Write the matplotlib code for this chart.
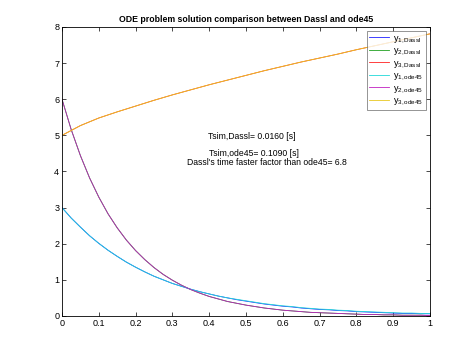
import matplotlib
matplotlib.use("Agg")
import matplotlib.pyplot as plt

t_fast = [0.000, 0.025, 0.050, 0.075, 0.100, 0.125, 0.150, 0.175, 0.200, 0.225,
          0.250, 0.275, 0.300, 0.325, 0.350, 0.375, 0.400, 0.425, 0.450, 0.475,
          0.500, 0.525, 0.550, 0.575, 0.600, 0.625, 0.650, 0.675, 0.700, 0.725,
          0.750, 0.775, 0.800, 0.825, 0.850, 0.875, 0.900, 0.925, 0.950, 0.975, 1.000]
y1_dassl = [3.00, 2.71, 2.46, 2.22, 2.01, 1.82, 1.65, 1.49, 1.35, 1.22,
            1.10, 1.00, 0.90, 0.82, 0.74, 0.67, 0.61, 0.55, 0.50, 0.45,
            0.41, 0.37, 0.33, 0.30, 0.27, 0.25, 0.22, 0.20, 0.18, 0.17,
            0.15, 0.14, 0.12, 0.11, 0.10, 0.09, 0.08, 0.07, 0.07, 0.06, 0.06]
y2_dassl = [6.00, 5.16, 4.44, 3.82, 3.29, 2.83, 2.44, 2.10, 1.81, 1.56,
            1.34, 1.15, 0.99, 0.85, 0.73, 0.63, 0.54, 0.47, 0.40, 0.35,
            0.30, 0.26, 0.22, 0.19, 0.16, 0.14, 0.12, 0.10, 0.09, 0.08,
            0.07, 0.06, 0.05, 0.04, 0.04, 0.03, 0.03, 0.02, 0.02, 0.02, 0.01]
y1_ode45 = [3.00, 2.71, 2.46, 2.22, 2.01, 1.82, 1.65, 1.49, 1.35, 1.22,
            1.10, 1.00, 0.90, 0.82, 0.74, 0.67, 0.61, 0.55, 0.50, 0.46,
            0.42, 0.38, 0.34, 0.31, 0.28, 0.26, 0.23, 0.21, 0.19, 0.18,
            0.16, 0.15, 0.13, 0.12, 0.11, 0.10, 0.09, 0.08, 0.08, 0.07, 0.07]
y2_ode45 = [6.00, 5.16, 4.44, 3.82, 3.29, 2.83, 2.44, 2.10, 1.81, 1.56,
            1.34, 1.15, 0.99, 0.85, 0.73, 0.63, 0.54, 0.47, 0.40, 0.35,
            0.30, 0.26, 0.22, 0.19, 0.16, 0.14, 0.12, 0.10, 0.09, 0.08,
            0.07, 0.06, 0.05, 0.04, 0.04, 0.03, 0.03, 0.02, 0.02, 0.02, 0.01]

t_slow = [0.00, 0.05, 0.10, 0.15, 0.20, 0.25, 0.30, 0.35, 0.40, 0.45, 0.50,
          0.55, 0.60, 0.65, 0.70, 0.75, 0.80, 0.85, 0.90, 0.95, 1.00]
y3_dassl = [5.00, 5.27, 5.48, 5.65, 5.81, 5.97, 6.12, 6.26, 6.40, 6.53, 6.66,
            6.79, 6.91, 7.03, 7.14, 7.25, 7.37, 7.48, 7.59, 7.70, 7.81]
y3_ode45 = [5.00, 5.27, 5.48, 5.65, 5.81, 5.97, 6.12, 6.26, 6.40, 6.53, 6.66,
            6.79, 6.91, 7.03, 7.14, 7.25, 7.37, 7.48, 7.59, 7.70, 7.81]

labels = [r"y$_{\mathrm{1,Dassl}}$", r"y$_{\mathrm{2,Dassl}}$", r"y$_{\mathrm{3,Dassl}}$",
          r"y$_{\mathrm{1,ode45}}$", r"y$_{\mathrm{2,ode45}}$", r"y$_{\mathrm{3,ode45}}$"]
colors = ["#2020ff", "#20a020", "#ff2020", "#20d8d8", "#c020c0", "#e8c820"]

plt.rcParams['font.family'] = ['Liberation Sans', 'DejaVu Sans']
plt.rcParams['mathtext.fontset'] = 'custom'
plt.rcParams['mathtext.rm'] = 'Liberation Sans'
plt.rcParams['mathtext.it'] = 'Liberation Sans'

fig = plt.figure(figsize=(4.74, 3.55), dpi=100)
ax = fig.add_axes([0.1308, 0.110, 0.907 - 0.1308, 0.924 - 0.110])

xs = [t_fast, t_fast, t_slow, t_fast, t_fast, t_slow]
series = [y1_dassl, y2_dassl, y3_dassl, y1_ode45, y2_ode45, y3_ode45]
for x, s, c, l in zip(xs, series, colors, labels):
    ax.plot(x, s, color=c, lw=0.6, label=l)

ax.set_xlim(0, 1)
ax.set_ylim(0, 8)
ax.set_xticks([0, 0.1, 0.2, 0.3, 0.4, 0.5, 0.6, 0.7, 0.8, 0.9, 1])
ax.set_xticklabels(["0", "0.1", "0.2", "0.3", "0.4", "0.5", "0.6", "0.7", "0.8", "0.9", "1"])
ax.set_yticks(range(0, 9))
ax.tick_params(direction='in', length=3, width=0.5, labelsize=6.5, top=True, right=True, pad=2)
for sp in ax.spines.values():
    sp.set_linewidth(0.6)

ax.set_title("ODE problem solution comparison between Dassl and ode45",
             fontsize=6.3, fontweight='bold', pad=3.5)

ax.text(0.516, 4.96, "Tsim,Dassl= 0.0160 [s]", ha='center', va='center', fontsize=6.2)
ax.text(0.522, 4.51, "Tsim,ode45= 0.1090 [s]", ha='center', va='center', fontsize=6.2)
ax.text(0.557, 4.25, "Dassl's time faster factor than ode45= 6.8", ha='center', va='center', fontsize=6.2)

leg = ax.legend(loc='upper right', fontsize=6.5, frameon=True, fancybox=False,
                borderaxespad=0.45, handlelength=2.2, labelspacing=0.15,
                borderpad=0.25, handletextpad=0.5)
leg.get_frame().set_edgecolor('#444444')
leg.get_frame().set_linewidth(0.5)

fig.savefig("out.png", dpi=100)
